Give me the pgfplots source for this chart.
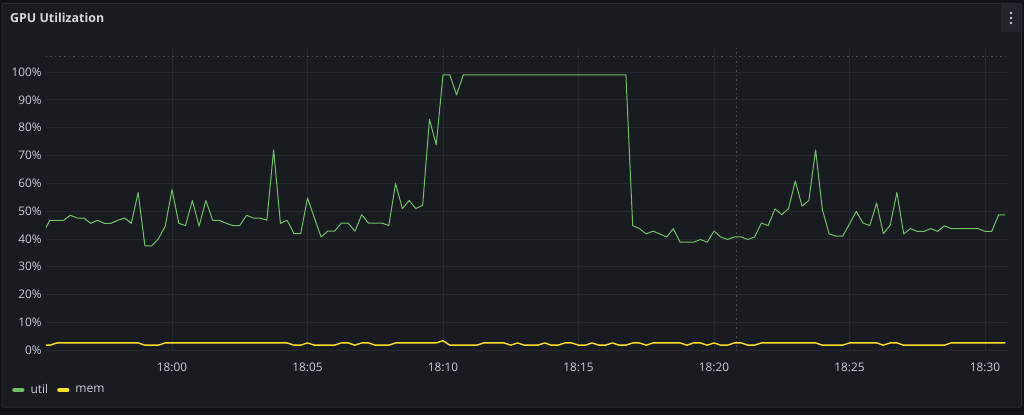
\documentclass[border=0pt]{standalone}
\usepackage{fontspec}
\setmainfont{Open Sans}
\usepackage{pgfplots}
\pgfplotsset{compat=1.18}
\usepackage{pgfplotstable}
\definecolor{outerbg}{HTML}{111217}
\definecolor{panelbg}{HTML}{181B1F}
\definecolor{panelborder}{HTML}{2A2D33}
\definecolor{gridcol}{HTML}{25282D}
\definecolor{txt}{HTML}{CCCCDC}
\definecolor{titlecol}{HTML}{D8D9E0}
\definecolor{dotcol}{HTML}{4A4D53}
\definecolor{utilgreen}{HTML}{73BF69}
\definecolor{memyellow}{HTML}{FADE2A}
\definecolor{btn}{HTML}{22252B}

\pgfplotstableread{
k util mem
-1 42.5 1.8
0 46.7 1.8
1 46.7 2.6
2 46.7 2.6
3 48.5 2.6
4 47.5 2.6
5 47.5 2.6
6 45.6 2.6
7 46.7 2.6
8 45.6 2.6
9 45.6 2.6
10 46.7 2.6
11 47.5 2.6
12 45.6 2.6
13 56.7 2.6
14 37.5 1.8
15 37.5 1.8
16 40.1 1.8
17 44.6 2.6
18 57.7 2.6
19 45.6 2.6
20 44.8 2.6
21 53.8 2.6
22 44.6 2.6
23 53.8 2.6
24 46.7 2.6
25 46.7 2.6
26 45.6 2.6
27 44.8 2.6
28 44.8 2.6
29 48.5 2.6
30 47.5 2.6
31 47.5 2.6
32 46.7 2.6
33 72 2.6
34 45.6 2.6
35 46.7 2.6
36 41.9 1.8
37 41.9 1.8
38 54.7 2.6
39 47.7 1.8
40 40.7 1.8
41 42.8 1.8
42 42.8 1.8
43 45.7 2.6
44 45.7 2.6
45 42.8 1.8
46 48.7 2.6
47 45.7 2.6
48 45.7 1.8
49 45.7 1.8
50 44.8 1.8
51 59.9 2.6
52 50.9 2.6
53 53.8 2.6
54 50.9 2.6
55 52.1 2.6
56 83 2.6
57 73.8 2.6
58 99 3.4
59 99 1.8
60 91.8 1.8
61 99 1.8
62 99 1.8
63 99 1.8
64 99 2.6
65 99 2.6
66 99 2.6
67 99 2.6
68 99 1.8
69 99 2.6
70 99 1.8
71 99 1.8
72 99 1.8
73 99 2.6
74 99 1.8
75 99 1.8
76 99 2.6
77 99 2.6
78 99 1.8
79 99 1.8
80 99 2.6
81 99 1.8
82 99 1.8
83 99 2.6
84 99 1.8
85 99 1.8
86 44.8 2.6
87 43.7 2.6
88 41.8 1.8
89 42.8 2.6
90 41.8 2.6
91 40.7 2.6
92 43.7 2.6
93 38.8 2.6
94 38.8 1.8
95 38.8 2.6
96 39.8 2.6
97 38.8 1.8
98 42.8 2.6
99 40.7 1.8
100 39.8 1.8
101 40.7 2.6
102 40.7 2.6
103 39.8 1.8
104 40.7 1.8
105 45.7 2.6
106 44.8 2.6
107 50.8 2.6
108 48.7 2.6
109 50.9 2.6
110 60.8 2.6
111 51.8 2.6
112 53.8 2.6
113 72 2.6
114 50.5 1.8
115 41.8 1.8
116 41 1.8
117 41 1.8
118 45.4 2.6
119 49.9 2.6
120 45.7 2.6
121 44.8 2.6
122 52.9 2.6
123 41.9 1.8
124 44.9 2.6
125 56.7 2.6
126 41.8 1.8
127 43.7 1.8
128 42.7 1.8
129 42.7 1.8
130 43.7 1.8
131 42.7 1.8
132 44.7 1.8
133 43.7 2.6
134 43.7 2.6
135 43.7 2.6
136 43.7 2.6
137 43.7 2.6
138 42.7 2.6
139 42.7 2.6
140 48.6 2.6
141 48.6 2.6
}\gpudata

\begin{document}
\begin{tikzpicture}
\useasboundingbox (0pt,0pt) rectangle (1024pt,415pt);
\fill[outerbg] (0pt,0pt) rectangle (1024pt,415pt);
\filldraw[fill=panelbg, draw=panelborder, line width=1pt, rounded corners=2pt] (2pt,8pt) rectangle (1021.5pt,411.7pt);
\node[anchor=west, inner sep=0pt, font=\fontsize{12.4}{15}\selectfont\bfseries, text=titlecol] at (10pt,397pt) {GPU Utilization};
\fill[btn, rounded corners=2pt] (1001pt,383pt) rectangle (1021pt,411.5pt);
\foreach \yy in {392,397,402} {\fill[txt] (1011pt,\yy pt) circle (1.3pt);}
\begin{axis}[
  at={(46pt,64pt)}, anchor=south west,
  scale only axis, width=962pt, height=304pt,
  xmin=-0.6, xmax=141.4, ymin=-0.3, ymax=109,
  axis line style={draw=none},
  major tick length=0pt,
  grid=major,
  major grid style={gridcol, line width=0.8pt},
  xtick={18,38,58,78,98,118,138},
  xticklabels={18:00,18:05,18:10,18:15,18:20,18:25,18:30},
  ytick={0,10,...,100},
  yticklabel={\pgfmathprintnumber{\tick}\%},
  /pgf/number format/assume math mode=true,
  tick label style={font=\fontsize{11.8}{13}\selectfont, text=txt},
  xticklabel style={yshift=-8pt},
  yticklabel style={xshift=-1pt},
  legend style={at={(axis description cs:0,0)}, anchor=west, xshift=-37pt, yshift=-39pt,
    draw=none, fill=none, text=txt, font=\fontsize{12}{14}\selectfont,
    /tikz/every odd column/.append style={column sep=4pt},
    /tikz/every even column/.append style={column sep=7pt}},
  legend columns=2,
  legend image code/.code={\draw[#1, line width=4pt, line cap=round] (0pt,0pt) -- (8.3pt,0pt);},
]
\draw[dotcol, line width=0.8pt, dash pattern=on 1.5pt off 3pt] (axis cs:-0.6,105.6) -- (axis cs:141.4,105.6);
\draw[dotcol, line width=0.8pt, dash pattern=on 1.5pt off 3pt] (axis cs:101.25,-0.3) -- (axis cs:101.25,109);
\addplot[utilgreen, line width=1pt, line join=round] table[x=k, y=util] {\gpudata};
\addlegendentry{util}
\addplot[memyellow, line width=1.4pt, line join=round] table[x=k, y=mem] {\gpudata};
\addlegendentry{mem}
\end{axis}
\end{tikzpicture}
\end{document}
